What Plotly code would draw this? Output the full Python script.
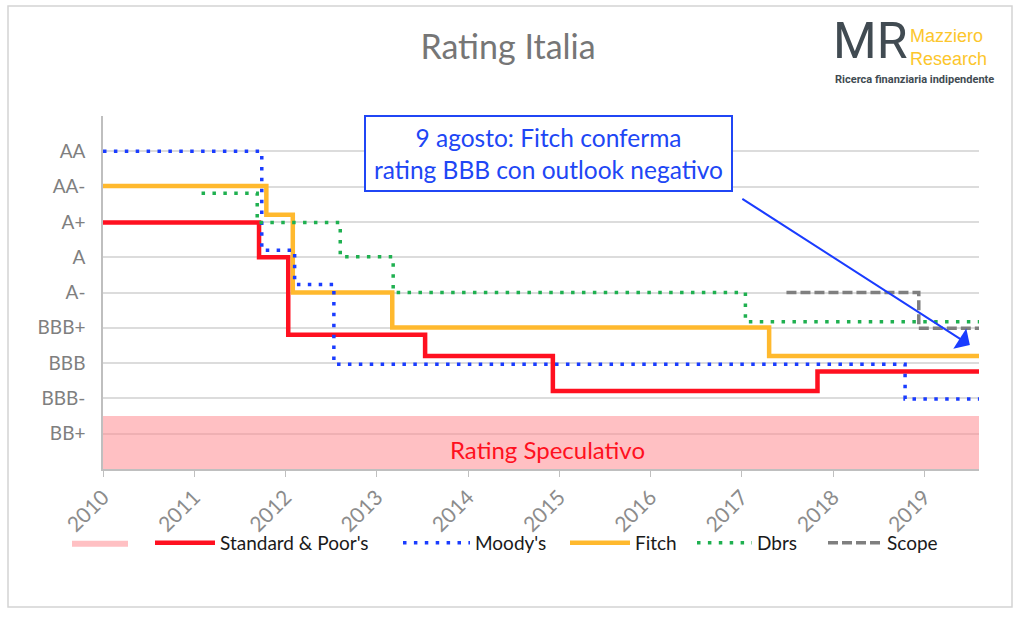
import plotly.graph_objects as go

# ---------------- data ----------------
year_ticks = list(range(2010, 2020))
rating_levels = list(range(0, 11))
rating_labels = ["", "BB+", "BBB-", "BBB", "BBB+", "A-", "A", "A+", "AA-", "AA", ""]

band_x = [2010.0, 2019.6, 2019.6, 2010.0, 2010.0]
band_y = [0.0, 0.0, 1.5, 1.5, 0.0]

sp_dates = [2010.0, 2011.71, 2012.03, 2013.53, 2014.93, 2017.83, 2019.6]
sp_levels = [6.98, 6.0, 3.8, 3.2, 2.21, 2.76, 2.76]

moodys_dates = [2010.0, 2011.74, 2012.10, 2012.53, 2018.79, 2019.6]
moodys_levels = [9.0, 6.2, 5.23, 2.97, 1.98, 1.98]

fitch_dates = [2010.0, 2011.79, 2012.08, 2013.17, 2017.30, 2019.6]
fitch_levels = [8.02, 7.2, 5.0, 4.01, 3.2, 3.2]

dbrs_dates = [2011.08, 2011.69, 2012.60, 2013.18, 2017.04, 2019.6]
dbrs_levels = [7.81, 6.98, 6.01, 5.0, 4.17, 4.17]

scope_dates = [2017.49, 2018.94, 2019.6]
scope_levels = [5.0, 3.99, 3.99]

# ---------------- layout helpers ----------------
W, H = 1024, 620
ML, MR, MT, MB = 103, 45, 116, 151
PW, PH = W - ML - MR, H - MT - MB


def px(xp):
    return (xp - ML) / PW


def py(yp):
    return (H - MB - yp) / PH


FONT = "Lato, Open Sans, sans-serif"
RED = "#ff1020"
BLUE = "#1a3cff"
ORANGE = "#ffb92e"
GREEN = "#1fb050"
GRAY = "#7f7f7f"
BLUE_TXT = "#2046f5"

fig = go.Figure()

fig.add_trace(go.Scatter(
    x=band_x, y=band_y, mode="lines", fill="toself",
    fillcolor="rgba(255,140,146,0.55)", line=dict(width=0),
    name=" ", legend="legend", hoverinfo="skip"))

fig.add_trace(go.Scatter(
    x=scope_dates, y=scope_levels, mode="lines", line_shape="hv",
    line=dict(color=GRAY, width=3.5, dash="10px,4px"),
    name="Scope", legend="legend6"))

fig.add_trace(go.Scatter(
    x=sp_dates, y=sp_levels, mode="lines", line_shape="hv",
    line=dict(color=RED, width=4.5),
    name="Standard & Poor's", legend="legend2"))

fig.add_trace(go.Scatter(
    x=fitch_dates, y=fitch_levels, mode="lines", line_shape="hv",
    line=dict(color=ORANGE, width=4.5),
    name="Fitch", legend="legend4"))

fig.add_trace(go.Scatter(
    x=moodys_dates, y=moodys_levels, mode="lines", line_shape="hv",
    line=dict(color=BLUE, width=3.5, dash="3.5px,7.4px"),
    name="Moody's", legend="legend3"))

fig.add_trace(go.Scatter(
    x=dbrs_dates, y=dbrs_levels, mode="lines", line_shape="hv",
    line=dict(color=GREEN, width=3.5, dash="3.5px,7.4px"),
    name="Dbrs", legend="legend5"))

leg_common = dict(orientation="h", xanchor="left", yanchor="middle",
                  bgcolor="rgba(0,0,0,0)", font=dict(family=FONT, size=19, color="#1a1a1a"),
                  tracegroupgap=0)
leg_y = py(543)
# legend key: (left pixel of symbol - 5, symbol width)
legend_pos = {"legend": (67, 56), "legend2": (150, 60), "legend3": (398, 67),
              "legend4": (565, 60), "legend5": (692, 55), "legend6": (823, 54)}
for k, (xp, iw) in legend_pos.items():
    fig.update_layout(**{k: dict(leg_common, x=px(xp), y=leg_y, itemwidth=iw)})

fig.update_layout(
    width=W, height=H,
    margin=dict(l=ML, r=MR, t=MT, b=MB),
    paper_bgcolor="white", plot_bgcolor="white",
    font=dict(family=FONT),
    showlegend=True,
    title=dict(text="Rating Italia", x=508 / W, xanchor="center",
               y=1 - 47 / H, yanchor="middle",
               font=dict(family=FONT, size=34, color="#767676")),
    xaxis=dict(range=[2010, 2019.6], tickvals=year_ticks, tickangle=-45,
               tickfont=dict(family=FONT, size=21, color="#8c8c8c"),
               ticks="outside", ticklen=6, tickcolor="#bfbfbf",
               showline=True, linecolor="#bfbfbf", linewidth=1.5,
               showgrid=False, zeroline=False, fixedrange=True),
    yaxis=dict(range=[0, 10], tickvals=rating_levels, ticktext=rating_labels,
               tickfont=dict(family=FONT, size=19, color="#7f7f7f"),
               ticks="", ticklabelstandoff=12,
               showline=True, linecolor="#bfbfbf", linewidth=1.5,
               showgrid=True, gridcolor="#dcdcdc", gridwidth=1.5,
               zeroline=False, fixedrange=True),
)

# outer frame
fig.add_shape(type="rect", xref="paper", yref="paper",
              x0=px(8), x1=px(1012), y0=py(607), y1=py(6),
              line=dict(color="#d4d4d4", width=1.5), layer="below")

# speculative label
fig.add_annotation(x=2014.87, y=0.54, text="Rating Speculativo", showarrow=False,
                   font=dict(family=FONT, size=24, color="#ff1020"))

# callout box
fig.add_annotation(x=2014.88, y=8.94, xref="x", yref="y",
                   text="9 agosto: Fitch conferma<br>rating BBB con outlook negativo",
                   showarrow=False, width=365, height=73, align="center", valign="middle",
                   bgcolor="white", bordercolor=BLUE_TXT, borderwidth=2, borderpad=0,
                   font=dict(family=FONT, size=24.5, color=BLUE_TXT))

# arrow
fig.add_annotation(x=2019.50, y=3.51, ax=2016.99, ay=7.68, axref="x", ayref="y",
                   xref="x", yref="y", text="", showarrow=True,
                   arrowhead=1, arrowsize=2, arrowwidth=2, arrowcolor=BLUE)

# logo
LOGO_DARK = "#414b52"
fig.add_annotation(x=px(831), y=py(41), xref="paper", yref="paper", xanchor="left",
                   yanchor="middle", text="MR", showarrow=False,
                   font=dict(family="Roboto, sans-serif", size=50, color=LOGO_DARK))
fig.add_annotation(x=px(908), y=py(47), xref="paper", yref="paper", xanchor="left",
                   yanchor="middle", text="Mazziero<br>Research", showarrow=False,
                   align="left",
                   font=dict(family="Liberation Sans, Arial, sans-serif",
                             size=18, color="#fcc62c"))
fig.add_annotation(x=px(833), y=py(79), xref="paper", yref="paper", xanchor="left",
                   yanchor="middle", text="<b>Ricerca finanziaria indipendente</b>",
                   showarrow=False,
                   font=dict(family="Roboto, sans-serif", size=11, color=LOGO_DARK))

fig.write_html("out.html")
